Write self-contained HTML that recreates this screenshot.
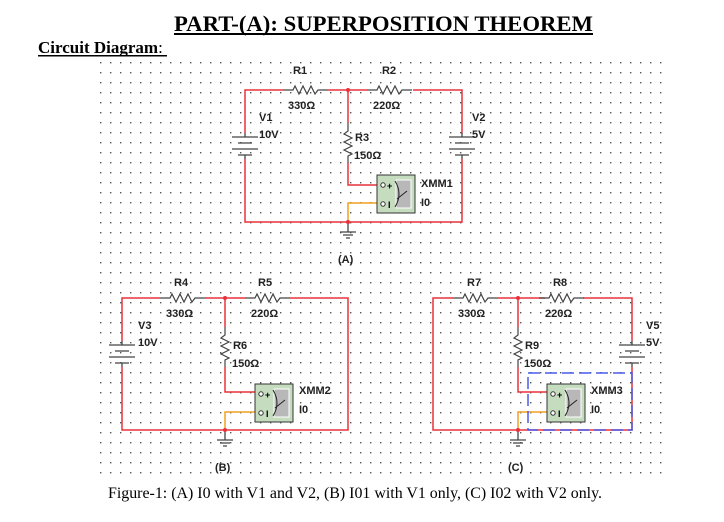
<!DOCTYPE html>
<html><head><meta charset="utf-8"><style>
html,body{margin:0;padding:0;background:#fff;}
svg{display:block}
.l{font-family:"Liberation Sans",sans-serif;font-weight:bold;font-size:11px;fill:#222}
.w{stroke:#e8323a;stroke-width:1.5;fill:none}
.o{stroke:#f0a020;stroke-width:1.5;fill:none}
.g{stroke:#444;stroke-width:1.2;fill:none}
</style></head><body>
<svg width="724" height="522" viewBox="0 0 724 522" xmlns="http://www.w3.org/2000/svg">
<defs>
<pattern id="dots" x="100" y="62" width="10" height="10" patternUnits="userSpaceOnUse">
<rect x="0" y="0" width="1.4" height="1.4" fill="#555"/>
</pattern>
<g id="rh"><path class="g" d="M0,0H10L12,-4L16,4L20,-4L24,4L28,-4L32,4L35,0H45"/></g>
<g id="rv"><path class="g" d="M0,0V8L-4,11L4,15L-4,19L4,23L-4,27L4,31L0,33V40"/></g>
<g id="bat"><path stroke="#444" stroke-width="1.3" fill="none" d="M-13,0H13M-7,6H7M-13,12H13M-7,18H7M0,-4V0M0,18V22"/></g>
<g id="gnd"><path stroke="#444" stroke-width="1.3" fill="none" d="M0,0V10M-8,10H8M-5,13H5M-2,16H2"/></g>
<g id="mtr">
<rect x="0" y="0" width="38" height="38" fill="#c5dcbf" stroke="#333" stroke-width="1"/>
<rect x="19" y="5" width="15" height="28" fill="#b8b8b8" stroke="#fff" stroke-width="1"/>
<path d="M18,6Q26,19 18,32M20,24L30,16" stroke="#222" fill="none" stroke-width="1"/>
<circle cx="6" cy="10" r="2.2" fill="#fff" stroke="#333"/><circle cx="6" cy="29" r="2.2" fill="#fff" stroke="#333"/>
<text x="10" y="14" style="font:bold 9px 'Liberation Sans',sans-serif">+</text>
<text x="11" y="33" style="font:bold 9px 'Liberation Sans',sans-serif">I</text>
</g>
</defs>
<rect x="100" y="62" width="562" height="416" fill="url(#dots)"/>
<text x="174" y="31" textLength="419" lengthAdjust="spacingAndGlyphs" style="font:bold 22px 'Liberation Serif',serif;fill:#000">PART-(A): SUPERPOSITION THEOREM</text>
<rect x="174" y="33" width="419" height="2" fill="#000"/>
<text x="38" y="53" style="font:bold 17px 'Liberation Serif',serif;fill:#000">Circuit Diagram<tspan style="font-weight:normal">:</tspan></text>
<rect x="38" y="55" width="129" height="1.5" fill="#000"/>
<text x="108" y="498" textLength="494" lengthAdjust="spacingAndGlyphs" style="font:16px 'Liberation Serif',serif;fill:#000">Figure-1: (A) I0 with V1 and V2, (B) I01 with V1 only, (C) I02 with V2 only.</text>

<!-- Circuit A -->
<path class="w" d="M283,90H245V133M245,159V222H462V159M462,133V90H413M328,90H367M348,90V123M348,163V185H377"/>
<path class="o" d="M377,203H348V222"/>
<use href="#rh" x="283" y="90"/><use href="#rh" x="367" y="90"/>
<use href="#rv" x="348" y="123"/>
<use href="#bat" x="245" y="137"/><use href="#bat" x="462" y="137"/>
<use href="#mtr" x="377" y="175"/>
<use href="#gnd" x="348" y="222"/>
<circle cx="348" cy="90" r="2" fill="#e8323a"/><circle cx="348" cy="222" r="2" fill="#e8323a"/>
<text class="l" x="293" y="74">R1</text><text class="l" x="288" y="109">330Ω</text>
<text class="l" x="382" y="74">R2</text><text class="l" x="373" y="109">220Ω</text>
<text class="l" x="259" y="121">V1</text><text class="l" x="259" y="138">10V</text>
<text class="l" x="472" y="121">V2</text><text class="l" x="472" y="138">5V</text>
<text class="l" x="355" y="141">R3</text><text class="l" x="354" y="159">150Ω</text>
<text class="l" x="421" y="187">XMM1</text><text class="l" x="421" y="206">I0</text>
<text class="l" x="338" y="263">(A)</text>

<!-- Circuit B -->
<path class="w" d="M160,298H122V341M122,367V430H348V298H290M205,298H245M225,298V327M225,367V392H255"/>
<path class="o" d="M255,412H225V430"/>
<use href="#rh" x="160" y="298"/><use href="#rh" x="245" y="298"/>
<use href="#rv" x="225" y="327"/>
<use href="#bat" x="122" y="345"/>
<use href="#mtr" x="255" y="384"/>
<use href="#gnd" x="225" y="430"/>
<circle cx="225" cy="298" r="2" fill="#e8323a"/><circle cx="225" cy="430" r="2" fill="#e8323a"/>
<text class="l" x="174" y="286">R4</text><text class="l" x="166" y="317">330Ω</text>
<text class="l" x="258" y="286">R5</text><text class="l" x="251" y="317">220Ω</text>
<text class="l" x="138" y="329">V3</text><text class="l" x="138" y="346">10V</text>
<text class="l" x="233" y="349">R6</text><text class="l" x="232" y="367">150Ω</text>
<text class="l" x="299" y="394">XMM2</text><text class="l" x="299" y="413">I0</text>
<text class="l" x="215" y="471">(B)</text>

<!-- Circuit C -->
<path class="w" d="M453,298H433V430H632V367M632,341V298H583M498,298H545M518,298V327M518,367V392H547"/>
<path class="o" d="M547,412H518V430"/>
<rect x="528" y="373" width="104" height="57" fill="none" stroke="#4a5ae8" stroke-width="1.5" stroke-dasharray="12,5"/>
<use href="#rh" x="453" y="298"/><use href="#rh" x="539" y="298"/>
<use href="#rv" x="518" y="327"/>
<use href="#bat" x="632" y="345"/>
<use href="#mtr" x="547" y="384"/>
<use href="#gnd" x="518" y="430"/>
<circle cx="518" cy="298" r="2" fill="#e8323a"/><circle cx="518" cy="430" r="2" fill="#e8323a"/>
<text class="l" x="467" y="286">R7</text><text class="l" x="458" y="317">330Ω</text>
<text class="l" x="553" y="286">R8</text><text class="l" x="545" y="317">220Ω</text>
<text class="l" x="646" y="329">V5</text><text class="l" x="646" y="346">5V</text>
<text class="l" x="525" y="349">R9</text><text class="l" x="524" y="367">150Ω</text>
<text class="l" x="591" y="394">XMM3</text><text class="l" x="591" y="413">I0</text>
<text class="l" x="508" y="471">(C)</text>
</svg>
</body></html>
